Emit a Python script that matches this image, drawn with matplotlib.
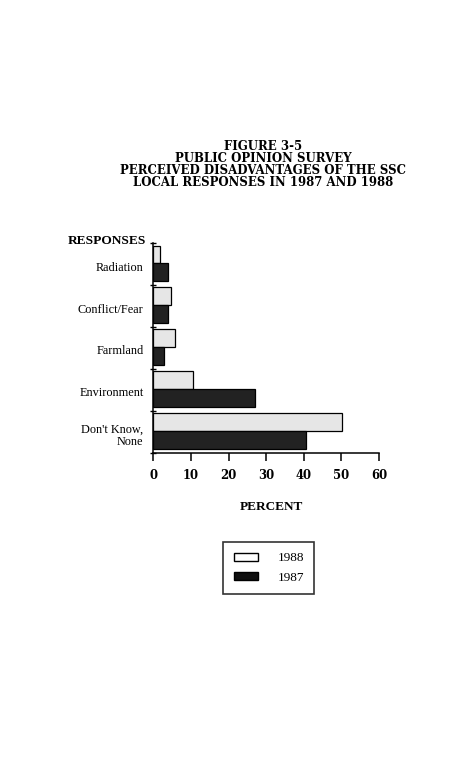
import matplotlib
matplotlib.use("Agg")
import matplotlib.pyplot as plt
from matplotlib.patches import Patch
import numpy as np

categories = ["Radiation", "Conflict/Fear", "Farmland", "Environment", "Don't Know,\nNone"]
values_1988 = [1.8, 4.8, 5.8, 10.6, 50.2]
values_1987 = [4.0, 3.9, 2.8, 27.0, 40.6]
series_names = ["1988", "1987"]
xticks = [0, 10, 20, 30, 40, 50, 60]
title_lines = ["FIGURE 3-5", "PUBLIC OPINION SURVEY",
               "PERCEIVED DISADVANTAGES OF THE SSC",
               "LOCAL RESPONSES IN 1987 AND 1988"]

W, H = 474, 759
fig = plt.figure(figsize=(W / 100, H / 100), dpi=100)
fig.patch.set_facecolor("white")
serif = "Liberation Serif"
wide = "DejaVu Serif"

def px(x, y):
    return x / W, 1 - y / H

ax_l, ax_r, ax_t, ax_b = 153.3, 379.0, 243.0, 452.7
ax = fig.add_axes([ax_l / W, 1 - ax_b / H, (ax_r - ax_l) / W, (ax_b - ax_t) / H])

n = len(categories)
idx = np.arange(n)
h = 0.42
ax.barh(idx + 0.27, values_1988, height=h, color="#e6e6e6", edgecolor="black", linewidth=0.9)
ax.barh(idx + 0.69, values_1987, height=h, color="#222222", edgecolor="black", linewidth=0.9)

ax.set_xlim(0, 60)
ax.set_ylim(n, 0)
for s in ["top", "right"]:
    ax.spines[s].set_visible(False)
for s in ["left", "bottom"]:
    ax.spines[s].set_linewidth(1.1)

ax.set_xticks(xticks)
ax.set_xticklabels([str(t) for t in xticks], fontfamily=wide, fontweight="bold", fontsize=8.4)
ax.tick_params(axis="x", direction="out", length=6, width=1.1, pad=6)

ax.set_yticks(np.arange(n + 1))
ax.set_yticklabels([])
ax.tick_params(axis="y", which="major", direction="inout", length=5, width=1.0)
ax.set_yticks(idx + 0.55, minor=True)
ax.set_yticklabels(categories, minor=True, fontfamily=serif, fontsize=8.8, linespacing=1.1)
ax.tick_params(axis="y", which="minor", length=0, pad=7)

for i, line in enumerate(title_lines):
    fig.text(*px(263, 146 + i * 12.2), line, ha="center", va="center",
             fontfamily=wide, fontweight="bold", fontsize=8.5)

fig.text(*px(146, 241.5), "RESPONSES", ha="right", va="center",
         fontfamily=serif, fontweight="bold", fontsize=9.6)
fig.text(*px(271, 507), "PERCENT", ha="center", va="center",
         fontfamily=serif, fontweight="bold", fontsize=9.5)

handles = [Patch(facecolor="white", edgecolor="black", linewidth=1.0),
           Patch(facecolor="#101010", edgecolor="black", linewidth=1.0)]
leg = fig.legend(handles, series_names, loc="upper left",
                 bbox_to_anchor=px(223.3, 541.7), bbox_transform=fig.transFigure,
                 prop={"family": serif, "size": 9.5}, frameon=True, fancybox=False,
                 borderpad=0.8, handlelength=1.85, handleheight=0.55,
                 handletextpad=1.45, labelspacing=0.55, borderaxespad=0)
leg.get_frame().set_edgecolor("black")
leg.get_frame().set_linewidth(1.2)

fig.savefig("out.png", dpi=100, facecolor="white")
